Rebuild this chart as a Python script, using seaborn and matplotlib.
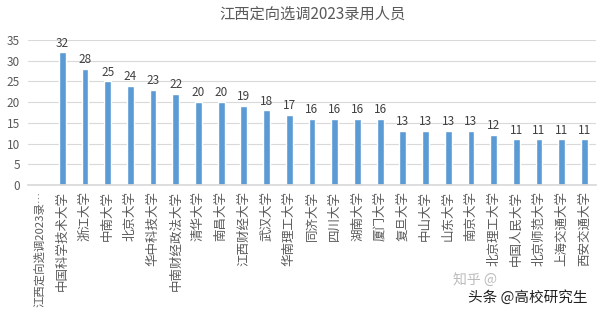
import numpy as np
import pandas as pd
import matplotlib
matplotlib.use("Agg")
import matplotlib.pyplot as plt
import seaborn as sns

title = "江西定向选调2023录用人员"
categories = ["江西定向选调2023录…", "中国科学技术大学", "浙江大学", "中南大学", "北京大学",
              "华中科技大学", "中南财经政法大学", "清华大学", "南昌大学", "江西财经大学",
              "武汉大学", "华南理工大学", "同济大学", "四川大学", "湖南大学", "厦门大学",
              "复旦大学", "中山大学", "山东大学", "南京大学", "北京理工大学", "中国人民大学",
              "北京师范大学", "上海交通大学", "西安交通大学"]
values = [0, 32, 28, 25, 24, 23, 22, 20, 20, 19, 18, 17, 16, 16, 16, 16,
          13, 13, 13, 13, 12, 11, 11, 11, 11]
yticks = [0, 5, 10, 15, 20, 25, 30, 35]

sns.set_theme(style="white")
plt.rcParams['font.family'] = ['Noto Sans CJK SC', 'DejaVu Sans']

df = pd.DataFrame({"cat": categories, "val": values})

fig = plt.figure(figsize=(6, 3.12), dpi=100)
ax = fig.add_axes([0.047, 0.407, 0.946, 0.465])
sns.barplot(data=df, x="cat", y="val", color="#5B9BD5", width=0.3, ax=ax,
            saturation=1, order=categories)

ax.set_ylim(0, 35)
ax.set_yticks(yticks)
ax.set_xlim(-0.5, len(categories) - 0.5)
ax.yaxis.grid(True, color="#D9D9D9", linewidth=0.8)
ax.set_axisbelow(True)
for s in ["top", "right", "left"]:
    ax.spines[s].set_visible(False)
ax.spines["bottom"].set_color("#D9D9D9")
ax.set_xlabel("")
ax.set_ylabel("")
ax.tick_params(axis="y", labelsize=8.5, colors="#595959", length=0, pad=6)
ax.tick_params(axis="x", labelsize=9, colors="#595959", length=0, pad=4)
plt.setp(ax.get_xticklabels(), rotation=90)
ax.get_xticklabels()[0].set_fontsize(8.2)

labels = ["" if v == 0 else f"{int(v)}" for v in values]
ax.bar_label(ax.containers[0], labels=labels, fontsize=8.5, color="#404040", padding=2)

fig.text(0.52, 0.955, title, ha="center", va="center", fontsize=11, color="#595959")
fig.text(0.755, 0.1, "知乎 @", ha="left", va="center", fontsize=10, color="#BBBBBB")
fig.text(0.98, 0.045, "头条 @高校研究生", ha="right", va="center", fontsize=10.5, color="#222222")

fig.savefig("out.png", dpi=100)
